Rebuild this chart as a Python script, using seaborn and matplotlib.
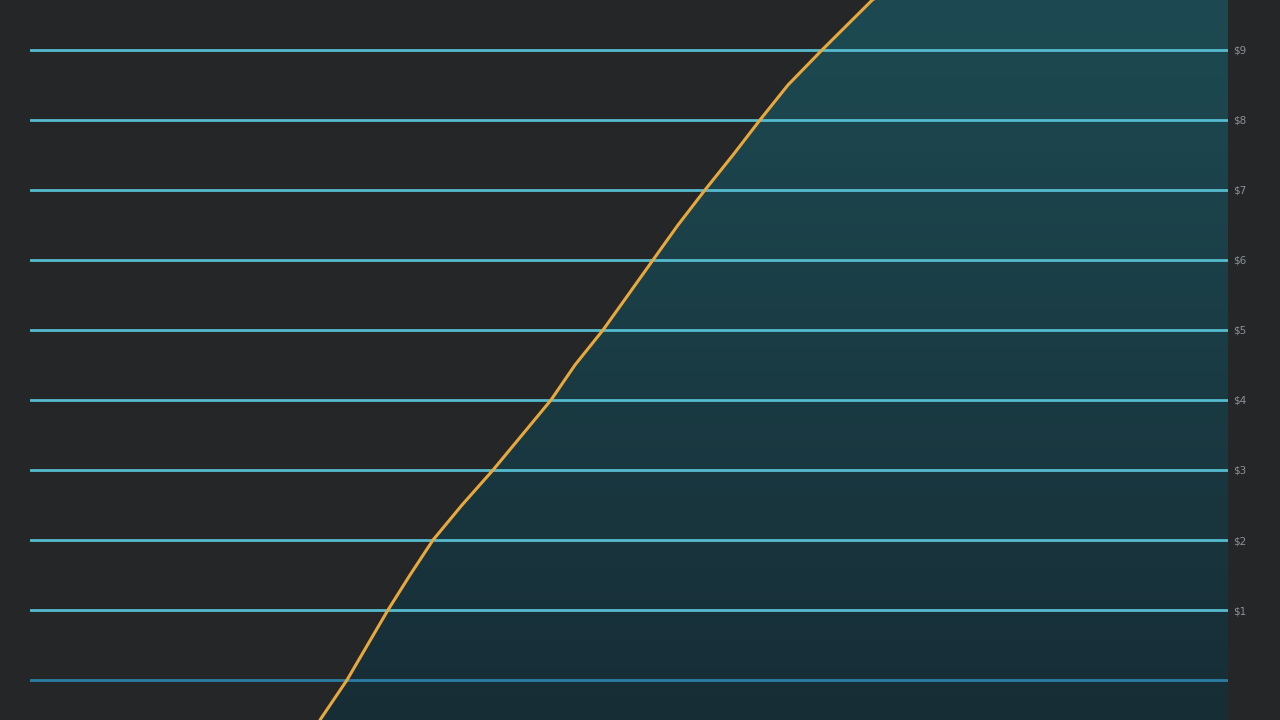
import numpy as np
import pandas as pd
import matplotlib
matplotlib.use("Agg")
import matplotlib.pyplot as plt
from matplotlib.colors import LinearSegmentedColormap
import seaborn as sns

# Data
x_vals = [24.21, 26.46, 29.88, 31.72, 33.64, 36.06, 38.65, 41.07, 43.49, 45.49,
          47.83, 49.92, 52.00, 54.09, 56.34, 58.68, 60.93, 63.27, 66.11, 70.28,
          80.0, 100.0]
y_vals = [-0.57, 0.0, 1.0, 1.5, 2.0, 2.5, 3.0, 3.5, 4.0, 4.5,
          5.0, 5.5, 6.0, 6.5, 7.0, 7.5, 8.0, 8.5, 9.0, 9.71,
          10.8, 12.5]
tick_vals = [0, 1, 2, 3, 4, 5, 6, 7, 8, 9]
tick_labels = ["", "$1", "$2", "$3", "$4", "$5", "$6", "$7", "$8", "$9"]

df = pd.DataFrame({"x": x_vals, "y": y_vals})

sns.set_theme(style="dark")
bg = "#242628"
fig = plt.figure(figsize=(12.8, 7.2), dpi=100, facecolor=bg)
ax = fig.add_axes([30 / 1280, 0.0, 1198 / 1280, 1.0])
ax.set_facecolor(bg)

ymin, ymax = -40 / 70, 680 / 70
ax.set_xlim(0, 100)
ax.set_ylim(ymin, ymax)

# Gradient fill under the curve
grad = np.linspace(0, 1, 256).reshape(-1, 1)
cmap = LinearSegmentedColormap.from_list("teal", ["#172d36", "#1d4a52"])
poly = ax.fill_between(df["x"], df["y"], ymin - 1, color="none", lw=0)
img = ax.imshow(grad, aspect="auto", cmap=cmap, origin="lower",
                extent=[0, 100, ymin, ymax], zorder=1)
img.set_clip_path(poly.get_paths()[0], transform=ax.transData)

# Gridlines
for v in tick_vals:
    col = "#2b7ea3" if v == 0 else "#55bccf"
    ax.axhline(v, color=col, lw=2.0, zorder=2)

sns.lineplot(data=df, x="x", y="y", ax=ax, color="#e9a83b", lw=2.2, zorder=3)

ax.set_xlabel("")
ax.set_ylabel("")
ax.set_xticks([])
ax.yaxis.tick_right()
ax.set_yticks(tick_vals)
ax.set_yticklabels(tick_labels, color="#8c9196", fontsize=7.5)
ax.tick_params(axis="y", length=0, pad=4)
ax.grid(False)
for s in ax.spines.values():
    s.set_visible(False)

fig.savefig("out.png", dpi=100, facecolor=bg)
